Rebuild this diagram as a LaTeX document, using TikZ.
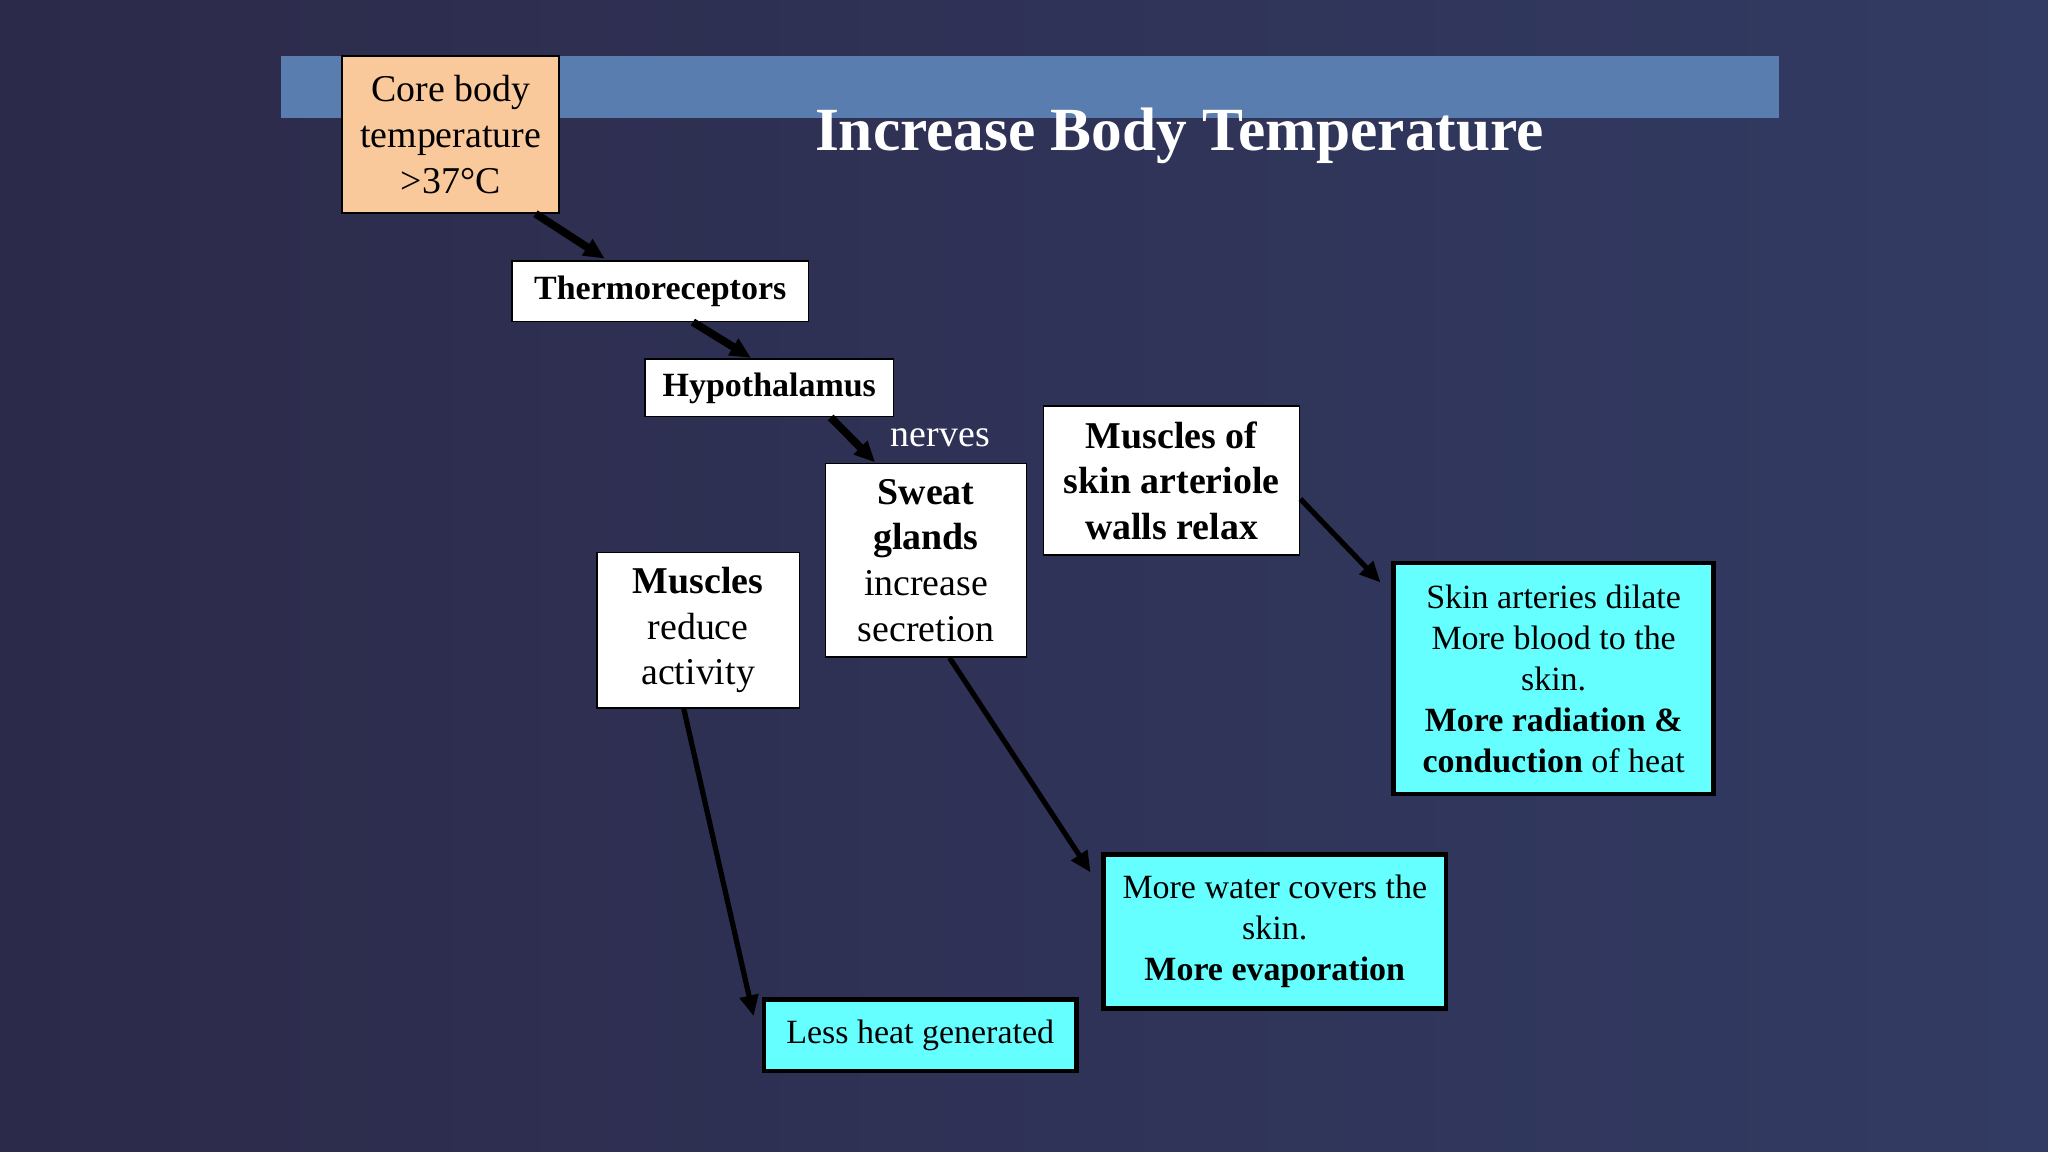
\documentclass[tikz,border=0pt]{standalone}
\usepackage{fontspec}
\setmainfont{Liberation Serif}
\usetikzlibrary{arrows.meta}
\definecolor{bgA}{HTML}{2C2A4A}
\definecolor{bgB}{HTML}{323B63}
\definecolor{banner}{HTML}{5A7DAF}
\definecolor{peach}{HTML}{F9C89B}
\definecolor{cyanbox}{HTML}{66FFFF}
\begin{document}
\begin{tikzpicture}[x=0.5pt,y=-0.5pt,
  box/.style={draw=black,fill=white,line width=0.6pt,align=center,inner sep=0pt,font=\fontsize{14.5}{17.5}\selectfont},
  cbox/.style={box,fill=cyanbox,line width=1.8pt},
  arr/.style={line width=2pt,-{Triangle[length=8pt,width=7pt]}},
  thick arr/.style={arr,line width=3pt}]
\useasboundingbox (0,0) rectangle (1568,882);
\shade[left color=bgA,right color=bgB] (0,0) rectangle (1568,882);
\fill[banner] (215,43) rectangle (1362,90);
\node[white,font=\bfseries\fontsize{23.5}{27}\selectfont] (title) at (903,104) {Increase Body Temperature};
\node[box,fill=peach,minimum width=83pt,minimum height=60pt] (core) at (345,103) {Core body\\temperature\\>37°C};
\node[box,minimum width=113.5pt,minimum height=23pt,font=\bfseries\fontsize{13}{15}\selectfont] (thermo) at (505.5,223) {Thermoreceptors};
\node[box,minimum width=95pt,minimum height=22pt,font=\bfseries\fontsize{13}{15}\selectfont] (hypo) at (589,297) {Hypothalamus};
\node[white,font=\fontsize{14.5}{17.5}\selectfont] (nerves) at (720,335) {nerves};
\node[box,minimum width=77pt,minimum height=74pt] (sweat) at (709,429) {\textbf{Sweat}\\\textbf{glands}\\increase\\secretion};
\node[box,minimum width=98pt,minimum height=57pt,font=\bfseries\fontsize{14.5}{17.5}\selectfont] (mskin) at (897,368) {Muscles of\\skin arteriole\\walls relax};
\node[box,minimum width=77.5pt,minimum height=59.5pt] (mred) at (534.5,482.5) {\textbf{Muscles}\\reduce\\activity};
\node[cbox,minimum width=122.5pt,minimum height=88.5pt,font=\fontsize{13}{15.7}\selectfont] (arter) at (1189.5,519.5) {Skin arteries dilate\\More blood to the\\skin.\\\textbf{More radiation \&}\\\textbf{conduction} of heat};
\node[cbox,minimum width=131pt,minimum height=59pt,font=\fontsize{13}{15.7}\selectfont] (water) at (976,713) {More water covers the\\skin.\\\textbf{More evaporation}};
\node[cbox,minimum width=119.5pt,minimum height=27.5pt,font=\fontsize{13}{15}\selectfont] (less) at (704.5,792.5) {Less heat generated};
\coordinate (a1) at (463,198);
\coordinate (a2) at (575,274);
\coordinate (a3) at (670,354);
\coordinate (a4) at (1057,446);
\coordinate (a5) at (835,668);
\coordinate (a6) at (577,778);
\draw[thick arr] ([xshift=32.5pt]core.south) -- (a1);
\draw[thick arr] ([xshift=12.5pt]thermo.south) -- (a2);
\draw[thick arr] ([xshift=23.5pt]hypo.south) -- (a3);
\draw[arr] ([yshift=-7pt]mskin.east) -- (a4);
\draw[arr] ([xshift=9pt]sweat.south) -- (a5);
\draw[arr] ([xshift=-5.5pt]mred.south) -- (a6);
\end{tikzpicture}
\end{document}
